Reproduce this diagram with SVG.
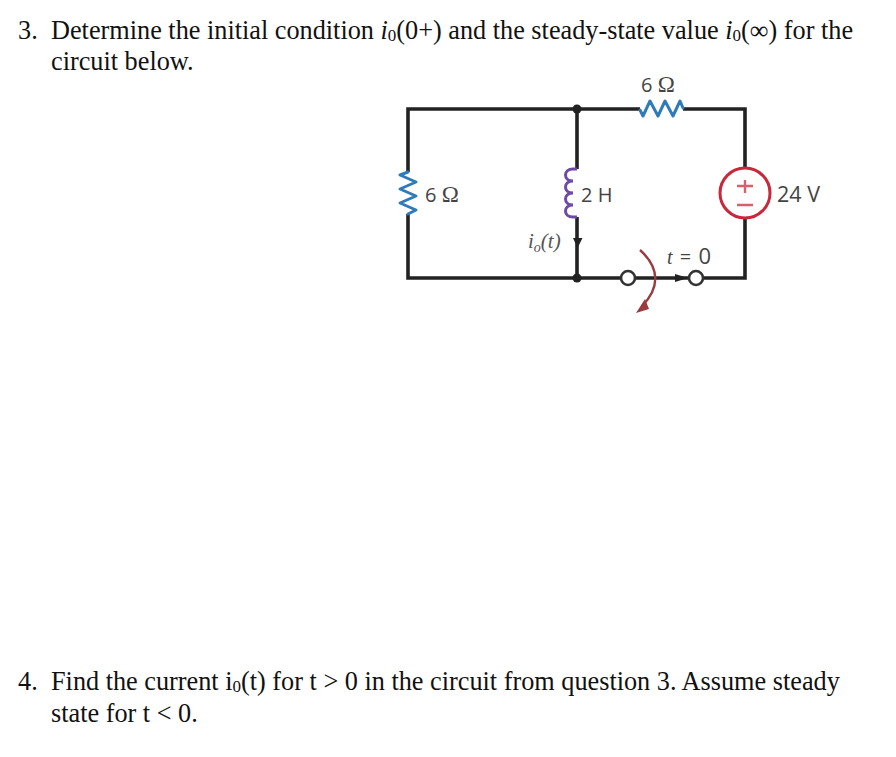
<svg xmlns="http://www.w3.org/2000/svg" width="896" height="757" viewBox="0 0 896 757">
<style>
.q{font-family:"Liberation Serif","Times New Roman",serif;font-size:26.250px;fill:#111}
.i{font-style:italic}
.l{font-family:"Open Sans","Liberation Sans",sans-serif;font-size:20px;fill:#444}
.s{font-family:"Liberation Serif",serif;font-size:21px;fill:#555}
.w{fill:none;stroke:#222;stroke-width:3.6;stroke-linejoin:miter}
.r{fill:none;stroke:#2f7ab8;stroke-width:3;stroke-linejoin:round;stroke-linecap:round}
.c{fill:#fff;stroke:#333;stroke-width:2.600}
.o{font-family:"Liberation Serif",serif;font-size:23px}
</style>
<rect width="896" height="757" fill="#fff"/>
<g id="text">
<text class="q" x="18" y="39">3.</text>
<text class="q" x="51" y="39">Determine the initial condition <tspan class="i">i</tspan><tspan font-size="17" dy="2">0</tspan><tspan dy="-2">(0+) and the steady-state value </tspan><tspan class="i">i</tspan><tspan font-size="17" dy="2">0</tspan><tspan dy="-2">(∞) for the</tspan></text>
<text class="q" x="51" y="70">circuit below.</text>
<text class="q" x="18" y="690">4.</text>
<text class="q" x="51" y="690">Find the current i<tspan font-size="17" dy="2">0</tspan><tspan dy="-2">(t) for t &gt; 0 in the circuit from question 3. Assume steady</tspan></text>
<text class="q" x="51" y="722">state for t &lt; 0.</text>
</g>
<g id="connectors">
<path class="w" d="M408 172V109H640M683 109H745V168M745 218V278H703M689 278H635M621 278H408V214"/>
<path class="w" d="M577 109V169M577 217V278"/>
<path d="M675 274L688 278L675 282Z" fill="#222"/>
<path d="M573 238H582.500L577.500 248Z" fill="#222"/>
<circle cx="577" cy="109" r="4.500" fill="#222"/>
<circle cx="577" cy="278" r="4.500" fill="#222"/>
</g>
<g id="r-left">
<path class="r" d="M408 172L400 175L416 182L400 189L416 196L400 203L416 210L408 214"/>
<text class="l" x="425" y="202">6 <tspan class="o">Ω</tspan></text>
</g>
<g id="r-top">
<path class="r" d="M640 110L643 116L650 101L658 116L665 101L673 116L680 101L683 108"/>
<text class="l" x="641" y="92">6 <tspan class="o">Ω</tspan></text>
</g>
<g id="inductor">
<path fill="none" stroke="#6d4aa8" stroke-width="3" d="M577 169H573C563 169 563 181 573 181C563 181 563 193 573 193C563 193 563 205 573 205C563 205 563 217 573 217H577"/>
<text class="l" x="581" y="202">2 H</text>
<text class="s" x="528" y="248" font-style="italic">i<tspan font-size="14" dy="4">o</tspan><tspan dy="-4">(t)</tspan></text>
</g>
<g id="source">
<circle cx="745" cy="193" r="25" fill="#fff" stroke="#c8283a" stroke-width="3"/>
<path d="M737 186H753M745 180V193M737 205H753" stroke="#d8606c" stroke-width="2.400" fill="none"/>
<text class="l" x="777" y="202" style="font-size:21.500px">24 V</text>
</g>
<g id="switch">
<circle class="c" cx="628" cy="278" r="7"/>
<circle class="c" cx="696" cy="278" r="7"/>
<path d="M640 250C660 268 660 288 642 306" fill="none" stroke="#9a3b3f" stroke-width="2.400"/>
<path d="M636 313L645 299L649 309Z" fill="#9a3b3f"/>
<text class="l" x="667" y="264" word-spacing="2"><tspan font-family="Liberation Serif" font-style="italic">t</tspan> = <tspan style="font-size:22px">0</tspan></text>
</g>
</svg>
